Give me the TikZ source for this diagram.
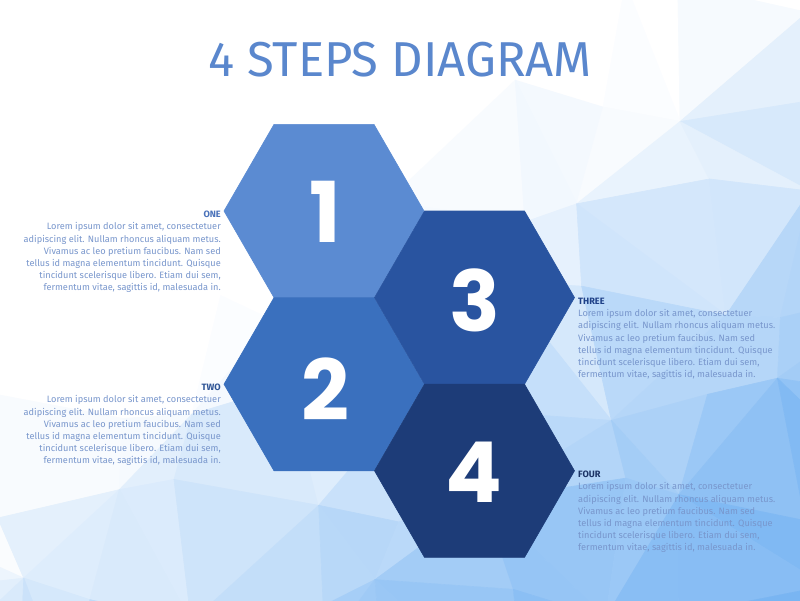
\documentclass[tikz,border=0pt]{standalone}
\usepackage{fontspec}
\setmainfont{Fira Sans}
\newfontfamily\numfont{Poppins}
\definecolor{bgb}{HTML}{4A9BEE}
\definecolor{hexA}{HTML}{5B8BD2}
\definecolor{hexB}{HTML}{3A70BE}
\definecolor{hexC}{HTML}{2954A0}
\definecolor{hexD}{HTML}{1D3C78}
\definecolor{titleblue}{HTML}{5A87CD}
\definecolor{bodyblue}{HTML}{7896CC}
\definecolor{headA}{HTML}{4A72BA}
\definecolor{headB}{HTML}{2F5596}
\definecolor{headC}{HTML}{1F4188}
\definecolor{headD}{HTML}{1C3466}
\pgfmathdeclarefunction{gx}{2}{\pgfmathparse{100*#1+26*sin(#1*137+#2*71)}}
\pgfmathdeclarefunction{gy}{2}{\pgfmathparse{100*#2+22*cos(#1*83+#2*151)}}
\pgfmathdeclarefunction{shadeval}{3}{\pgfmathparse{max(0,min(85,0.0775*#1+0.1267*#2-58+#3))}}
\tikzset{
  hexnum/.style={text=white,font=\numfont\bfseries\fontsize{84}{84}\selectfont,inner sep=0pt},
  bodytext/.style={text=bodyblue,font=\fontsize{9.2}{12.2}\selectfont,inner sep=0pt},
  lefttext/.style={bodytext,align=right,anchor=north east},
  righttext/.style={bodytext,align=left,anchor=north west},
  titletext/.style={text=titleblue,font=\fontsize{49}{52}\selectfont,inner sep=0pt}
}
\newcommand{\lorem}{Lorem ipsum dolor sit amet, consectetuer\\adipiscing elit. Nullam rhoncus aliquam metus.\\Vivamus ac leo pretium faucibus. Nam sed\\tellus id magna elementum tincidunt. Quisque\\tincidunt scelerisque libero. Etiam dui sem,\\fermentum vitae, sagittis id, malesuada in.}
\begin{document}
\begin{tikzpicture}[x=1pt,y=-1pt]
\useasboundingbox (0,0) rectangle (800,600);
% low-poly background
\begin{scope}
\clip (0,0) rectangle (800,600);
\fill[white] (0,0) rectangle (800,600);
\foreach \i in {-1,...,8}{
  \foreach \j in {-1,...,6}{
    \pgfmathsetmacro{\ax}{gx(\i,\j)}\pgfmathsetmacro{\ay}{gy(\i,\j)}
    \pgfmathsetmacro{\bx}{gx(\i+1,\j)}\pgfmathsetmacro{\by}{gy(\i+1,\j)}
    \pgfmathsetmacro{\cx}{gx(\i,\j+1)}\pgfmathsetmacro{\cy}{gy(\i,\j+1)}
    \pgfmathsetmacro{\dx}{gx(\i+1,\j+1)}\pgfmathsetmacro{\dy}{gy(\i+1,\j+1)}
    \pgfmathtruncatemacro{\t}{mod(\i+\j+10,2)}
    \ifnum\t=0
      \pgfmathtruncatemacro{\pa}{shadeval((\ax+\bx+\dx)/3,(\ay+\by+\dy)/3,4*sin(\i*211+\j*97))}
      \pgfmathtruncatemacro{\pb}{shadeval((\ax+\dx+\cx)/3,(\ay+\dy+\cy)/3,4*sin(\i*59+\j*173+40))}
      \filldraw[fill=bgb!\pa!white,draw=bgb!\pa!white,line width=0.6pt,line join=round] (\ax,\ay) -- (\bx,\by) -- (\dx,\dy) -- cycle;
      \filldraw[fill=bgb!\pb!white,draw=bgb!\pb!white,line width=0.6pt,line join=round] (\ax,\ay) -- (\dx,\dy) -- (\cx,\cy) -- cycle;
    \else
      \pgfmathtruncatemacro{\pa}{shadeval((\ax+\bx+\cx)/3,(\ay+\by+\cy)/3,4*sin(\i*211+\j*97))}
      \pgfmathtruncatemacro{\pb}{shadeval((\bx+\dx+\cx)/3,(\by+\dy+\cy)/3,4*sin(\i*59+\j*173+40))}
      \filldraw[fill=bgb!\pa!white,draw=bgb!\pa!white,line width=0.6pt,line join=round] (\ax,\ay) -- (\bx,\by) -- (\cx,\cy) -- cycle;
      \filldraw[fill=bgb!\pb!white,draw=bgb!\pb!white,line width=0.6pt,line join=round] (\bx,\by) -- (\dx,\dy) -- (\cx,\cy) -- cycle;
    \fi
  }
}
\end{scope}
% title
\node[titletext] (title) at (400,60) {4 STEPS DIAGRAM};
% hexagons
\foreach \cx/\cy/\col in {324/211/hexA,324/384.2/hexB,474.5/297.6/hexC,474.5/470.8/hexD}{
  \filldraw[fill=\col,draw=\col,line width=0.6pt,line join=miter] (\cx,\cy) ++(-100,0) -- ++(50,-86.6) -- ++(100,0) -- ++(50,86.6) -- ++(-50,86.6) -- ++(-100,0) -- cycle;
}
\node[hexnum] (n1) at (325,212) {1};
\node[hexnum] (n2) at (325,389) {2};
\node[hexnum] (n3) at (475,300) {3};
\node[hexnum] (n4) at (474,472) {4};
% texts
\node[lefttext] (t1) at (221,211) {{\bfseries\color{headA}ONE}\\\lorem};
\node[lefttext] (t2) at (221,384) {{\bfseries\color{headB}TWO}\\\lorem};
\node[righttext] (t3) at (578,298) {{\bfseries\color{headC}THREE}\\\lorem};
\node[righttext] (t4) at (578,471) {{\bfseries\color{headD}FOUR}\\\lorem};
\end{tikzpicture}
\end{document}
